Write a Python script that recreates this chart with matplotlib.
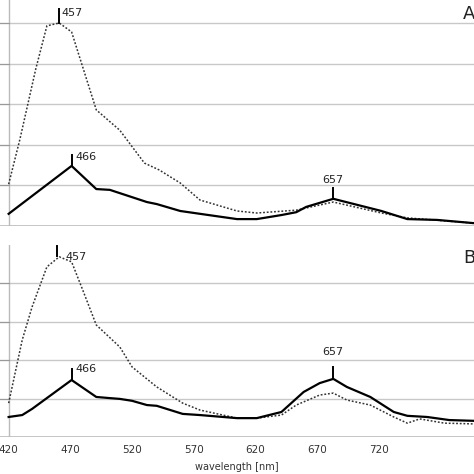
import matplotlib
matplotlib.use("Agg")
import matplotlib.pyplot as plt

# wavelength positions (nm, as placed on the axis) and intensities
a_dot_x = [420, 429, 442, 451, 461, 471, 491, 510, 530, 542, 559, 575, 605, 621, 653, 683, 722, 743, 797]
a_dot_y = [1.03, 2.12, 3.87, 4.93, 5.0, 4.78, 2.86, 2.36, 1.55, 1.38, 1.06, 0.64, 0.37, 0.32, 0.39, 0.59, 0.32, 0.20, 0.07]
a_sol_x = [420, 471, 491, 502, 510, 532, 540, 559, 575, 605, 621, 641, 653, 661, 683, 722, 743, 767, 797]
a_sol_y = [0.30, 1.48, 0.91, 0.89, 0.81, 0.59, 0.54, 0.37, 0.30, 0.17, 0.17, 0.27, 0.34, 0.47, 0.67, 0.37, 0.17, 0.15, 0.07]

b_dot_x = [420, 431, 439, 451, 461, 471, 480, 491, 510, 520, 540, 561, 575, 605, 621, 641, 653, 672, 683, 694, 713, 732, 743, 753, 773, 797]
b_dot_y = [0.88, 2.52, 3.38, 4.42, 4.68, 4.55, 3.82, 2.91, 2.34, 1.82, 1.30, 0.88, 0.70, 0.49, 0.49, 0.57, 0.83, 1.09, 1.14, 0.96, 0.83, 0.52, 0.36, 0.47, 0.36, 0.34]
b_sol_x = [420, 431, 439, 471, 491, 502, 510, 520, 532, 540, 561, 575, 605, 621, 641, 659, 672, 683, 694, 713, 732, 743, 759, 777, 797]
b_sol_y = [0.52, 0.57, 0.73, 1.48, 1.04, 1.01, 0.99, 0.94, 0.83, 0.81, 0.60, 0.57, 0.49, 0.49, 0.65, 1.17, 1.40, 1.51, 1.30, 1.04, 0.65, 0.55, 0.52, 0.44, 0.42]

xticks = [420, 470, 520, 570, 620, 670, 720]

# peak markers: (x, y0, y1, label, label x, label y, ha)
a_peaks = [(461, 5.0, 5.35, "457", 463, 5.25, "left"),
           (471, 1.48, 1.75, "466", 474, 1.70, "left"),
           (683, 0.67, 0.94, "657", 683, 1.13, "center")]
b_peaks = [(459, 4.7, 4.95, "457", 466, 4.68, "left"),
           (471, 1.48, 1.77, "466", 474, 1.76, "left"),
           (683, 1.51, 1.82, "657", 683, 2.2, "center")]

fig = plt.figure(figsize=(4.74, 4.74), dpi=100)
axA = fig.add_axes([0, 1 - 226 / 474, 1, 226 / 474])
axB = fig.add_axes([0, 1 - 437 / 474, 1, (437 - 245) / 474])

for ax, dx, dy, sx, sy, peaks, ytop, letter in [
        (axA, a_dot_x, a_dot_y, a_sol_x, a_sol_y, a_peaks, 226 / 40.6, "A"),
        (axB, b_dot_x, b_dot_y, b_sol_x, b_sol_y, b_peaks, 192 / 38.5, "B")]:
    ax.set_xlim(413, 797)
    ax.set_ylim(0, ytop)
    for s in ax.spines.values():
        s.set_visible(False)
    for g in range(1, 6):
        if g < ytop:
            ax.axhline(g, color="#c8c8c8", lw=1, zorder=0)
            ax.plot([413, 420], [g, g], color="#999999", lw=0.8, clip_on=False)
    ax.axhline(0, color="#bbbbbb", lw=1.2, zorder=0)
    ax.axvline(420, color="#bbbbbb", lw=1, zorder=0)
    ax.plot(dx, dy, color="#333333", lw=1.1, ls=(0, (1.2, 1.2)))
    ax.plot(sx, sy, color="black", lw=1.6)
    for x, y0, y1, lab, lx, ly, ha in peaks:
        ax.plot([x, x], [y0, y1], color="black", lw=1.4)
        ax.text(lx, ly, lab, fontsize=8, ha=ha, va="center", color="#222222")
    ax.text(788, ytop - 0.35, letter, fontsize=13, va="center", ha="left", color="#222222")
    ax.set_yticks([])
    ax.set_xticks(xticks)
    ax.tick_params(axis="x", length=0, labelsize=7.5, colors="#333333", pad=6)

axA.set_xticklabels([])
axB.set_xlabel("wavelength [nm]", fontsize=7, color="#333333", labelpad=5)

fig.savefig("out.png", dpi=100)
